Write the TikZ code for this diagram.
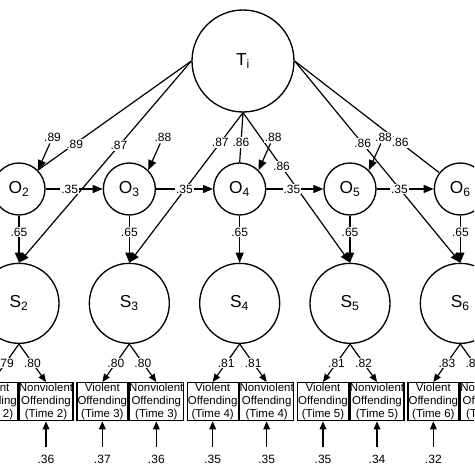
\documentclass[tikz,border=0pt]{standalone}
\usepackage{fontspec}
\setmainfont{Liberation Sans}
\usetikzlibrary{arrows.meta, positioning}

\begin{document}
\begin{tikzpicture}[
    x=0.75pt, y=-0.75pt,
    line width=0.9pt,
    latent/.style={circle, draw, line width=1pt, inner sep=0pt, font=\fontsize{13}{15}\selectfont},
    trait/.style={latent, minimum size=76.5pt},
    occ/.style={latent, minimum size=39pt},
    statevar/.style={latent, minimum size=60pt},
    obs/.style={rectangle, draw, line width=1pt, minimum width=38.25pt, minimum height=28.5pt, inner xsep=0pt, inner ysep=0pt, align=center, font=\fontsize{8.6}{10}\selectfont},
    lab/.style={fill=white, inner sep=0.8pt, font=\fontsize{9}{10}\selectfont},
    arrow/.style={-{Triangle[length=7.5pt, width=6pt]}},
    smallarrow/.style={-{Triangle[length=6pt, width=5pt]}},
]
    \useasboundingbox (0,0) rectangle (474,474);
    \clip (0,0) rectangle (474,474);

    % Trait factor
    \node[trait] (t) at (243,61) {T\textsubscript{i}};

    % Occasion factors
    \node[occ] (o2) at (19,189) {O\textsubscript{2}};
    \node[occ, right=42.75pt of o2] (o3) {O\textsubscript{3}};
    \node[occ, right=42.75pt of o3] (o4) {O\textsubscript{4}};
    \node[occ, right=42.75pt of o4] (o5) {O\textsubscript{5}};
    \node[occ, right=42.75pt of o5] (o6) {O\textsubscript{6}};

    % State factors
    \node[statevar, below=35.25pt of o2] (s2) {S\textsubscript{2}};
    \node[statevar, below=35.25pt of o3] (s3) {S\textsubscript{3}};
    \node[statevar, below=35.25pt of o4] (s4) {S\textsubscript{4}};
    \node[statevar, below=35.25pt of o5] (s5) {S\textsubscript{5}};
    \node[statevar, below=35.25pt of o6] (s6) {S\textsubscript{6}};

    % Observed indicators
    \node[obs, below=28.5pt of s2, xshift=-20.25pt] (v2) {Violent\\Offending\\(Time 2)};
    \node[obs, below=28.5pt of s2, xshift=20.25pt] (n2) {Nonviolent\\Offending\\(Time 2)};
    \node[obs, below=28.5pt of s3, xshift=-20.25pt] (v3) {Violent\\Offending\\(Time 3)};
    \node[obs, below=28.5pt of s3, xshift=20.25pt] (n3) {Nonviolent\\Offending\\(Time 3)};
    \node[obs, below=28.5pt of s4, xshift=-20.25pt] (v4) {Violent\\Offending\\(Time 4)};
    \node[obs, below=28.5pt of s4, xshift=20.25pt] (n4) {Nonviolent\\Offending\\(Time 4)};
    \node[obs, below=28.5pt of s5, xshift=-20.25pt] (v5) {Violent\\Offending\\(Time 5)};
    \node[obs, below=28.5pt of s5, xshift=20.25pt] (n5) {Nonviolent\\Offending\\(Time 5)};
    \node[obs, below=28.5pt of s6, xshift=-20.25pt] (v6) {Violent\\Offending\\(Time 6)};
    \node[obs, below=28.5pt of s6, xshift=20.25pt] (n6) {Nonviolent\\Offending\\(Time 6)};

    % Trait loadings
    \draw (t.west) -- (o2.north east) node[lab, pos=0.76] {.89};
    \draw[arrow] (t.west) -- (s2.north) node[lab, pos=0.42] {.87};
    \draw[arrow] (t.south) -- (s3.north) node[lab, pos=0.2] {.87};
    \draw (t.south) -- (o4.north) node[lab, pos=0.6] {.86};
    \draw[arrow] (t.south) -- (s5.north) node[lab, pos=0.36] {.86};
    \draw[arrow] (t.east) -- (s6.north) node[lab, pos=0.41] {.86};
    \draw (t.east) -- (o6) node[lab, pos=0.73] {.86};

    % Occasion residuals
    \node[lab, above right=20pt and 3.5pt of o2] (eo2) {.89};
    \node[lab, above right=20pt and 3.5pt of o3] (eo3) {.88};
    \node[lab, above right=20pt and 3.5pt of o4] (eo4) {.88};
    \node[lab, above right=20pt and 3.5pt of o5] (eo5) {.88};
    \draw[arrow] (eo2) -- (o2.north east);
    \draw[arrow] (eo3) -- (o3.north east);
    \draw[arrow] (eo4) -- (o4.north east);
    \draw[arrow] (eo5) -- (o5.north east);

    % Autoregressive paths
    \draw[arrow] (o2) -- (o3) node[lab, pos=0.42] {.35};
    \draw[arrow] (o3) -- (o4) node[lab, pos=0.5] {.35};
    \draw[arrow] (o4) -- (o5) node[lab, pos=0.45] {.35};
    \draw[arrow] (o5) -- (o6) node[lab, pos=0.4] {.35};

    % Occasion to state
    \draw[arrow] (o2) -- (s2) node[lab, pos=0.35] {.65};
    \draw[arrow] (o3) -- (s3) node[lab, pos=0.35] {.65};
    \draw[arrow] (o4) -- (s4) node[lab, pos=0.35] {.65};
    \draw[arrow] (o5) -- (s5) node[lab, pos=0.35] {.65};
    \draw[arrow] (o6) -- (s6) node[lab, pos=0.35] {.65};

    % State loadings
    \draw[smallarrow] (s2.south) -- (v2.north) node[lab, midway] {.79};
    \draw[smallarrow] (s2.south) -- (n2.north) node[lab, midway] {.80};
    \draw[smallarrow] (s3.south) -- (v3.north) node[lab, midway] {.80};
    \draw[smallarrow] (s3.south) -- (n3.north) node[lab, midway] {.80};
    \draw[smallarrow] (s4.south) -- (v4.north) node[lab, midway] {.81};
    \draw[smallarrow] (s4.south) -- (n4.north) node[lab, midway] {.81};
    \draw[smallarrow] (s5.south) -- (v5.north) node[lab, midway] {.81};
    \draw[smallarrow] (s5.south) -- (n5.north) node[lab, midway] {.82};
    \draw[smallarrow] (s6.south) -- (v6.north) node[lab, midway] {.83};
    \draw[smallarrow] (s6.south) -- (n6.north) node[lab, midway] {.83};

    % Indicator residuals
    \node[lab, below=24pt of n2] (en2) {.36};
    \node[lab, below=24pt of v3] (ev3) {.37};
    \node[lab, below=24pt of n3] (en3) {.36};
    \node[lab, below=24pt of v4] (ev4) {.35};
    \node[lab, below=24pt of n4] (en4) {.35};
    \node[lab, below=24pt of v5] (ev5) {.35};
    \node[lab, below=24pt of n5] (en5) {.34};
    \node[lab, below=24pt of v6] (ev6) {.32};
    \draw[smallarrow, shorten <=4.5pt] (en2) -- (n2);
    \draw[smallarrow, shorten <=4.5pt] (ev3) -- (v3);
    \draw[smallarrow, shorten <=4.5pt] (en3) -- (n3);
    \draw[smallarrow, shorten <=4.5pt] (ev4) -- (v4);
    \draw[smallarrow, shorten <=4.5pt] (en4) -- (n4);
    \draw[smallarrow, shorten <=4.5pt] (ev5) -- (v5);
    \draw[smallarrow, shorten <=4.5pt] (en5) -- (n5);
    \draw[smallarrow, shorten <=4.5pt] (ev6) -- (v6);
\end{tikzpicture}
\end{document}
